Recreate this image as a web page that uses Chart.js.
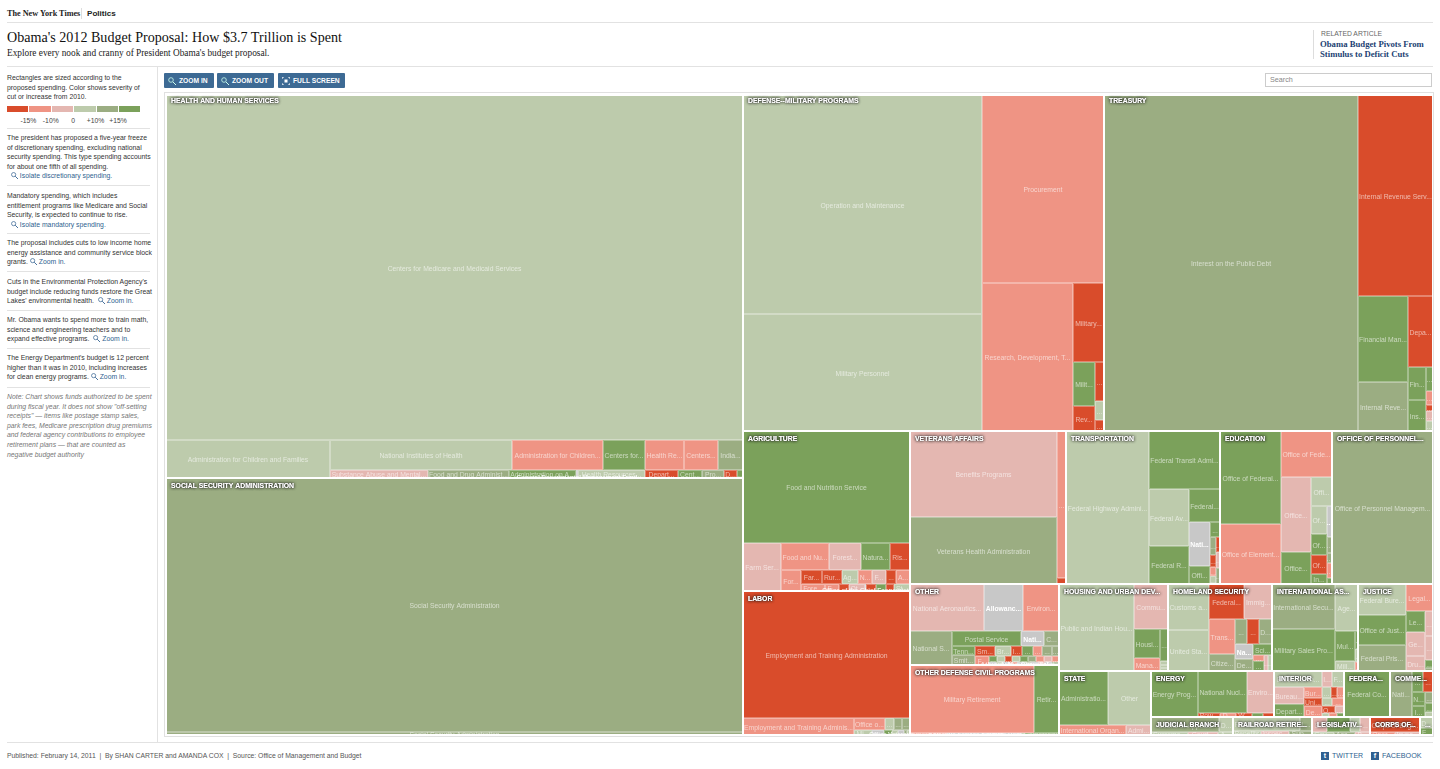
<!DOCTYPE html>
<html>
<head>
<meta charset="utf-8">
<title>Obama's 2012 Budget Proposal: How $3.7 Trillion is Spent</title>
<script src="https://cdn.jsdelivr.net/npm/chart.js@4"></script>
<style>
html, body { margin: 0; padding: 0; background: #fff; }
body { width: 1440px; height: 769px; position: relative; overflow: hidden; font-family: "Liberation Sans", Arial, sans-serif; color: #333; }
.abs { position: absolute; white-space: nowrap; }
.rule { position: absolute; background: #e2e2e2; height: 1px; }
.para { position: absolute; left: 7px; font-size: 6.85px; line-height: 9.6px; white-space: nowrap; color: #333; }
.para a { color: #2f5f8f; }
.mag { width: 7px; height: 7px; vertical-align: -1px; margin-right: 2px; }
.note { font-style: italic; color: #777; }
.btn { position: absolute; top: 73px; height: 15px; line-height: 15px; background: #3d6a94; color: #fff; font-size: 6.7px; font-weight: bold; box-sizing: border-box; padding-left: 15px; border-radius: 1px; }
.btn svg { position: absolute; left: 4px; top: 4px; }
#wrap { position: absolute; left: 166px; top: 95px; width: 1267px; height: 640px; }
#frame { position: absolute; left: 164px; top: 92px; width: 1270px; height: 645px; border: 1px solid #e0e0e0; box-sizing: border-box; }
canvas { display: block; }
</style>
</head>
<body>
<svg width="0" height="0" style="position:absolute"><symbol id="magIcon" viewBox="0 0 8 8"><circle cx="3" cy="3" r="2.4" fill="none" stroke="#2f5f8f" stroke-width=".8"/><path d="M4.8 4.8L8 8" stroke="#2f5f8f"/></symbol></svg>
<div class="abs" style="left:7px;top:7px;font:bold 8.2px/13px 'Liberation Serif',serif;color:#222;">The New York Times</div>
<div class="abs" style="left:81px;top:8px;width:1px;height:11px;background:#ddd;"></div>
<div class="abs" style="left:87px;top:8px;font:bold 8.1px/12px 'Liberation Sans',sans-serif;color:#222;">Politics</div>
<div class="rule" style="left:7px;top:22px;width:1426px;"></div>
<div class="abs" style="left:7px;top:28px;font:14.1px/18px 'Liberation Serif',serif;color:#111;">Obama's 2012 Budget Proposal: How $3.7 Trillion is Spent</div>
<div class="abs" style="left:7px;top:47px;font:9.3px/13px 'Liberation Serif',serif;color:#222;">Explore every nook and cranny of President Obama's budget proposal.</div>
<div class="abs" style="left:1313px;top:30px;width:1px;height:29px;background:#ddd;"></div>
<div class="abs" style="left:1321px;top:29px;font:6.8px/10px 'Liberation Sans',sans-serif;color:#666;">RELATED ARTICLE</div>
<div class="abs" style="left:1320px;top:39px;font:bold 8.7px/10px 'Liberation Serif',serif;color:#1c3f73;">Obama Budget Pivots From<br>Stimulus to Deficit Cuts</div>
<div class="rule" style="left:7px;top:66px;width:1426px;"></div>
<div class="abs" style="left:157px;top:67px;width:1px;height:675px;background:#e2e2e2;"></div>

<div class="para" style="top:73px;">Rectangles are sized according to the<br>proposed spending. Color shows severity of<br>cut or increase from 2010.</div>
<div id="legend"></div>
<div class="rule" style="left:7px;top:128px;width:143px;"></div>
<div class="para" style="top:133px;">The president has proposed a five-year freeze<br>of discretionary spending, excluding national<br>security spending. This type spending accounts<br>for about one fifth of all spending.<br><a>&nbsp;&nbsp;<svg class="mag"><use href="#magIcon"/></svg>Isolate discretionary spending.</a></div>
<div class="rule" style="left:7px;top:185px;width:143px;"></div>
<div class="para" style="top:191px;">Mandatory spending, which includes<br>entitlement programs like Medicare and Social<br>Security, is expected to continue to rise.<br><a>&nbsp;&nbsp;<svg class="mag"><use href="#magIcon"/></svg>Isolate mandatory spending.</a></div>
<div class="rule" style="left:7px;top:233px;width:143px;"></div>
<div class="para" style="top:238px;">The proposal includes cuts to low income home<br>energy assistance and community service block<br>grants. <a><svg class="mag"><use href="#magIcon"/></svg>Zoom in.</a></div>
<div class="rule" style="left:7px;top:271px;width:143px;"></div>
<div class="para" style="top:277px;">Cuts in the Environmental Protection Agency's<br>budget include reducing funds restore the Great<br>Lakes' environmental health. &nbsp;<a><svg class="mag"><use href="#magIcon"/></svg>Zoom in.</a></div>
<div class="rule" style="left:7px;top:310px;width:143px;"></div>
<div class="para" style="top:315px;">Mr. Obama wants to spend more to train math,<br>science and engineering teachers and to<br>expand effective programs. &nbsp;<a><svg class="mag"><use href="#magIcon"/></svg>Zoom in.</a></div>
<div class="rule" style="left:7px;top:348px;width:143px;"></div>
<div class="para" style="top:353px;">The Energy Department's budget is 12 percent<br>higher than it was in 2010, including increases<br>for clean energy programs. <a><svg class="mag"><use href="#magIcon"/></svg>Zoom in.</a></div>
<div class="rule" style="left:7px;top:387px;width:143px;"></div>
<div class="para note" style="top:392px;">Note: Chart shows funds authorized to be spent<br>during fiscal year. It does not show "off-setting<br>receipts" &mdash; items like postage stamp sales,<br>park fees, Medicare prescription drug premiums<br>and federal agency contributions to employee<br>retirement plans &mdash; that are counted as<br>negative budget authority</div>

<div class="btn" style="left:164px;width:50px;"><svg width="8" height="8" viewBox="0 0 8 8"><circle cx="3" cy="3" r="2.3" fill="none" stroke="#cfe" stroke-width=".8"/><path d="M5 5L8 8" stroke="#cfe"/></svg>ZOOM IN</div>
<div class="btn" style="left:217px;width:57px;"><svg width="8" height="8" viewBox="0 0 8 8"><circle cx="3" cy="3" r="2.3" fill="none" stroke="#cfe" stroke-width=".8"/><path d="M5 5L8 8" stroke="#cfe"/></svg>ZOOM OUT</div>
<div class="btn" style="left:278px;width:67px;"><svg width="8" height="8" viewBox="0 0 8 8"><path d="M0 2V0H2M6 0H8V2M8 6V8H6M2 8H0V6" fill="none" stroke="#fff"/><rect x="2.5" y="2.5" width="3" height="3" fill="#fff"/></svg>FULL SCREEN</div>
<div class="abs" style="left:1265px;top:73px;width:167px;height:14px;border:1px solid #ccc;box-sizing:border-box;font:7.2px/12px 'Liberation Sans',sans-serif;color:#888;padding-left:4px;">Search</div>

<div id="frame"></div>
<div id="wrap"><canvas id="budget" width="1267" height="640"></canvas></div>

<div class="rule" style="left:7px;top:742px;width:1426px;"></div>
<div class="abs" style="left:7px;top:751px;font:6.8px/10px 'Liberation Sans',sans-serif;color:#555;">Published: February 14, 2011 &nbsp;|&nbsp; By SHAN CARTER and AMANDA COX &nbsp;|&nbsp; Source: Office of Management and Budget</div>
<div class="abs" style="left:1321px;top:752px;width:8px;height:8px;background:#2f5f8f;color:#fff;font:bold 7px/8px 'Liberation Sans',sans-serif;text-align:center;">t</div>
<div class="abs" style="left:1332px;top:751px;font:7px/10px 'Liberation Sans',sans-serif;color:#2f5f8f;">TWITTER</div>
<div class="abs" style="left:1371px;top:752px;width:8px;height:8px;background:#2f5f8f;color:#fff;font:bold 7px/8px 'Liberation Sans',sans-serif;text-align:center;">f</div>
<div class="abs" style="left:1382px;top:751px;font:7.2px/10px 'Liberation Sans',sans-serif;color:#2f5f8f;">FACEBOOK</div>

<script>
// budget figures, billions of dollars. change = percent from 2010
const deptNames = ["HEALTH AND HUMAN SERVICES", "SOCIAL SECURITY ADMINISTRATION", "DEFENSE--MILITARY PROGRAMS", "TREASURY", "AGRICULTURE", "LABOR", "VETERANS AFFAIRS", "TRANSPORTATION", "EDUCATION", "OFFICE OF PERSONNEL MANAGEMENT", "OTHER", "OTHER DEFENSE CIVIL PROGRAMS", "HOUSING AND URBAN DEVELOPMENT", "HOMELAND SECURITY", "INTERNATIONAL ASSISTANCE", "JUSTICE", "STATE", "ENERGY", "INTERIOR", "FEDERAL COMMUNICATIONS", "COMMERCE", "JUDICIAL BRANCH", "RAILROAD RETIREMENT BOARD", "LEGISLATIVE BRANCH", "CORPS OF ENGINEERS", "DISTRICT OF COLUMBIA"];
const deptValues = [1017, 681, 559, 508, 123, 111, 110, 109, 79, 71, 56, 48, 43.6, 41.6, 34.4, 30, 26.8, 26.2, 14.8, 9.7, 9.1, 6.8, 6.5, 4.8, 4.1, 1.1];
const deptStrips = [-2, 2, -2, 4, -2, 4, -1, 4, 5];

const hhsNames = ["Centers for Medicare and Medicaid Services", "Administration for Children and Families", "National Institutes of Health", "Administration for Children and Families Programs", "Centers for Disease Control", "Health Resources and Services", "Centers for Medicare Programs", "Indian Health Service", "Substance Abuse and Mental Health Services", "Food and Drug Administration", "Administration on Aging Programs", "General Departmental Management Fund", "Health Resources and Services Administration", "Departmental Management", "Centers for Disease", "Program Support", "Departmental", "Agency"];
const hhsValues = [913, 28.7, 25, 12.6, 5.7, 5.5, 4.6, 3.4, 3.6, 3, 2.5, 0.04, 2.5, 1.2, 0.9, 0.8, 0.5, 0.2];
const hhsChange = [5, 5, 5, -12, 20, -12, -12, 12, -5, 12, 20, null, 5, -20, 20, 12, -20, 20];
const hhsStrips = [1, -1, 6, 10];

const ssaNames = ["Social Security Administration", "Social Security Administration"];
const ssaValues = [672.7, 8];
const ssaChange = [12, 12];
const ssaStrips = [1, 1];

const defenseNames = ["Operation and Maintenance", "Military Personnel", "Procurement", "Research, Development, Test and Evaluation", "Military Construction", "Military Family Housing", "Revolving and Management Funds", "Allowances", "Trust Funds", "Defense-wide"];
const defenseValues = [240.6, 128.6, 105.5, 61.2, 11.5, 4.5, 2.6, 1.6, 0.8, 0.45];
const defenseChange = [5, 5, -12, -12, -20, 20, -20, -20, 5, -20];
const defenseStrips = [-2, 1, -1, 1, -2, -3];

const treasuryNames = ["Interest on the Public Debt", "Internal Revenue Service", "Financial Management Service", "Internal Revenue Programs", "Departmental Offices", "Financial Crimes", "Inspector General", "Alcohol and Tobacco", "Mint", "Public Debt", "Fiscal Service", "Comptroller"];
const treasuryValues = [390.8, 69, 19.6, 11, 8.2, 2.8, 2.6, 0.74, 0.4, 0.2, 0.3, 0.3];
const treasuryChange = [12, -20, 20, 12, -20, 20, 20, 20, -12, -20, -5, 5];
const treasuryStrips = [-1, 1, -2, 1, -2, -5];

const agricultureNames = ["Food and Nutrition Service", "Farm Service Agency", "Food and Nutrition Programs", "Forest Service", "Natural Resources Conservation", "Risk Management Agency", "Foreign Agricultural Service", "Farm Credit", "Rural Housing Service", "Agricultural Research", "National Institute of Food", "Food Safety", "Rural Business", "Animal and Plant Health", "Forest Programs", "Farm Programs", "Rural Utilities", "Other", "Office of the Chief Economist", "Grain Inspection", "Marketing Service", "Economic Research", "Statistics"];
const agricultureValues = [86, 8.4, 6, 4, 3.6, 2.5, 1.9, 1.35, 1.3, 1.03, 0.9, 0.9, 0.64, 0.9, 0.74, 0.45, 0.3, 0.5, 0.04, 0.3, 0.3, 0.25, 0.5];
const agricultureChange = [20, -5, -12, -5, 20, -20, -12, -20, -20, 5, -12, -5, -20, -12, -12, -12, -20, -5, null, -20, 20, -20, 5];
const agricultureStrips = [1, -1, 4, -1, 7, 9];

const laborNames = ["Employment and Training Administration", "Employment and Training Administration", "Office of Workers' Compensation", "Occupational Safety", "Bureau of Labor Statistics", "Employee Benefits", "Mine Safety", "Office", "Wage and Hour", "Departmental", "Veterans", "Labor Relations", "Pension"];
const laborValues = [97.5, 8.7, 1.65, 0.5, 0.44, 0.44, 0.41, 0.28, 0.18, 0.14, 0.12, 0.08, 0.06];
const laborChange = [-20, -12, -12, 5, 12, 12, 5, null, 20, 5, null, 12, 5];
const laborStrips = [1, -1, 4, 7];

const vaNames = ["Benefits Programs", "Veterans Health Administration", "Departmental Administration", "Construction"];
const vaValues = [57.7, 45, 6, 0.25];
const vaChange = [-5, 12, -12, -20];
const vaStrips = [-2, -2];

const transportationNames = ["Federal Highway Administration", "Federal Transit Administration", "Federal Aviation Administration", "Federal Railroad Administration", "Federal Motor Carrier", "National Infrastructure Bank", "Office of the Secretary", "National Highway Traffic", "Pipeline", "Maritime Administration", "Office of Inspector General", "Research", "Surface Transportation", "Hazardous", "Saint Lawrence"];
const transportationValues = [58.4, 19, 10.5, 7, 4.85, 4.35, 1.8, 0.66, 0.47, 0.33, 0.25, 0.2, 0.3, 0.3, 0.3];
const transportationChange = [5, 20, 5, 20, 20, null, 20, 20, 12, -20, -12, 5, -20, -5, 12];
const transportationStrips = [-1, 1, -2, 1, -2, 1, -4, -3];

const educationNames = ["Office of Federal Student Aid", "Office of Elementary and Secondary Education", "Office of Federal Programs", "Office of Special Education", "Office of Innovation", "Office of Postsecondary Education", "Office of Vocational Education", "Office of English Language", "Office of Safe Schools", "Institute of Education", "Office of Civil Rights", "Departmental", "Inspector", "Loan", "Howard"];
const educationValues = [25.7, 16.6, 10.8, 10.3, 4.4, 2.8, 2, 1.55, 1.4, 0.74, 0.7, 0.37, 0.23, 0.34, 0.14];
const educationChange = [20, -12, -12, -5, 20, 5, 5, 20, -20, 20, null, 12, 12, -12, 20];
const educationStrips = [-2, 1, -2, 1, -4, -5];

const opmNames = ["Office of Personnel Management"];
const opmValues = [71];
const opmChange = [12];
const opmStrips = [1];

const otherNames = ["National Aeronautics and Space Administration", "Allowances", "Environmental Protection Agency", "National Science Foundation", "Postal Service", "National Infrastructure", "Corporation for Public", "Tennessee Valley Authority", "Smithsonian Institution", "Small Business Administration", "Broadcasting", "International Trade", "Equal Employment", "Peace Corps", "Consumer Product", "Education Funds", "Federal Emergency", "Nuclear Regulatory", "Securities", "Archives", "Holocaust", "Commodity", "Federal Election", "Trade", "Labor Board", "Kennedy Center", "Library", "Clean", "Arts", "Humanities", "Museum", "Medicaid", "Chemical", "Merit", "Safety", "Election"];
const otherValues = [15.5, 7.9, 7.65, 6.6, 4.8, 1.6, 1.1, 0.92, 1, 0.87, 0.7, 0.5, 0.46, 0.41, 0.41, 0.33, 0.6, 0.22, 0.22, 0.22, 0.22, 0.22, 0.22, 0.22, 0.22, 0.22, 0.1, 0.1, 0.1, 0.1, 0.1, 0.1, 0.1, 0.1, 0.1, 0.1];
const otherChange = [-5, null, -12, 12, 20, null, 12, 20, 12, -20, 5, -20, 20, -12, 12, 12, -12, 20, 5, -20, 5, 20, 12, -12, -5, -12, null, 5, null, -12, null, 5, null, -5, null, 12];
const otherStrips = [3, -1, 3, -2, 7, -1, 9, 10];

const otherDefenseNames = ["Military Retirement", "Retirement Programs", "American Battle Monuments", "Selective Service System", "Soldiers Home", "Cemeterial"];
const otherDefenseValues = [38.8, 8.1, 0.35, 0.35, 0.35, 0.35];
const otherDefenseChange = [-12, 20, -12, null, null, 20];
const otherDefenseStrips = [2, 4];

const housingNames = ["Public and Indian Housing Programs", "Community Planning", "Housing Programs", "Management and Administration", "Community Development", "Government National", "Fair Housing", "Policy"];
const housingValues = [29.6, 7.1, 3.5, 1.55, 1.24, 0.15, 0.15, 0.1];
const housingChange = [5, -5, 20, -12, 20, 5, 5, 5];
const housingStrips = [-1, 1, -2, 1, -3];

const homelandNames = ["Customs and Border Protection", "United States Coast Guard", "Federal Emergency Management", "Immigration and Customs", "Transportation Security", "Citizenship and Immigration", "U.S. Secret Service", "U.S. Visit", "Domestic Nuclear", "National Protection", "Departmental Operations", "Science and Technology", "Federal Law", "Office", "Transit", "Urban"];
const homelandValues = [8.3, 7.5, 5.5, 4.5, 4, 2, 1.4, 1.3, 1.4, 1.25, 1, 1, 0.33, 0.5, 0.28, 0.28];
const homelandChange = [5, 5, -20, -5, -12, 12, 12, -20, 12, null, 12, 20, -12, 20, -5, 5];
const homelandStrips = [-2, 2, -2, 3, -2, 1, -2, 2];

const intlNames = ["International Security Assistance", "Military Sales Program", "Agency for International Development", "Multilateral Assistance", "Millennium Challenge", "Export", "Peace", "Trade"];
const intlValues = [12.8, 12, 5, 2.8, 0.9, 0.3, 0.2, 0.15];
const intlChange = [12, 20, 5, 20, 5, 20, 5, -12];
const intlStrips = [-2, 1, -2, -3];

const justiceNames = ["Federal Bureau of Investigation", "Office of Justice Programs", "Federal Prison System", "Legal Activities", "Legal Services", "General Administration", "Drug Enforcement Administration", "Bureau of Alcohol", "Interagency", "United States", "Marshals"];
const justiceValues = [6.7, 6.3, 5.6, 3.3, 1.8, 2.1, 1.3, 0.9, 0.9, 0.3, 0.1];
const justiceChange = [5, 20, 12, -12, 20, -5, -5, -5, -5, 20, 12];
const justiceStrips = [-3, 1, -3, -4];

const stateNames = ["Administration of Foreign Affairs", "Other", "International Organizations", "Administration"];
const stateValues = [11.9, 10.2, 3, 1.1];
const stateChange = [20, 5, -12, -5];
const stateStrips = [2, 2];

const energyNames = ["Energy Programs", "National Nuclear Security", "Environmental and Other Defense", "Power Marketing", "Departmental", "Western", "Southwestern", "Bonneville"];
const energyValues = [9.9, 9.3, 5.2, 0.4, 0.3, 0.3, 0.2, 0.2];
const energyChange = [20, 20, -5, -20, -12, -20, 20, -20];
const energyStrips = [-1, 2, 5];

const interiorNames = ["Bureau of Indian Affairs", "Insular", "Fish and Wildlife", "Bureau of Land Management", "Departmental Management", "Bureau of Reclamation", "Surface", "Mining", "Minerals", "United States Geological", "Departmental Offices", "National Park", "Office", "Ocean", "Energy", "Safety", "Wildland", "Trust"];
const interiorValues = [3.46, 0.74, 0.88, 2.2, 1.8, 0.9, 0.45, 0.3, 0.35, 0.58, 0.9, 0.32, 0.38, 0.4, 0.3, 0.15, 0.15, 0.15];
const interiorChange = [5, -5, 5, -5, 20, -12, 5, -20, -12, -20, -12, 5, -12, -20, -5, 5, -12, 20];
const interiorStrips = [3, -2, 4, -2, 2, 2, 3];

const federalNames = ["Federal Communications Commission"];
const federalValues = [9.7];
const federalChange = [20];
const federalStrips = [1];

const commerceNames = ["National Oceanic and Atmospheric", "Bureau of the Census", "Economic Development", "National Institute of Standards", "International Trade", "Patent Office", "Minority", "Bureau"];
const commerceValues = [4.4, 1, 0.9, 0.77, 0.6, 0.4, 0.3, 0.2];
const commerceChange = [12, 20, -20, 20, 20, 12, 20, 5];
const commerceStrips = [-1, 2, -2, -3];

const judicialNames = ["Courts of Appeals", "Defender Services", "Supreme Court", "Court Security", "Administrative Office"];
const judicialValues = [4.7, 0.97, 0.5, 0.4, 0.2];
const judicialChange = [12, 5, 5, -5, 5];
const judicialStrips = [2, 3];

const railroadNames = ["Railroad Retirement Board", "Limitation on Administration", "Benefits", "Inspector General", "Supplemental"];
const railroadValues = [4.2, 0.77, 0.5, 0.5, 0.4];
const railroadChange = [5, 12, 5, -5, 12];
const railroadStrips = [2, 3];

const legislativeNames = ["Senate", "Library of Congress", "House of Representatives", "Architect of the Capitol", "Government Printing", "Accountability", "Budget Office"];
const legislativeValues = [1, 1.4, 0.65, 0.65, 0.3, 0.3, 0.2];
const legislativeChange = [-5, 20, 5, -5, 5, 12, -5];
const legislativeStrips = [4, 3];

const corpsNames = ["Corps of Engineers Construction", "Operation", "Investigations"];
const corpsValues = [3.4, 0.35, 0.35];
const corpsChange = [-20, -12, -5];
const corpsStrips = [1, 2];

const dcNames = ["District of Columbia Courts", "Federal Payment"];
const dcValues = [0.7, 0.4];
const dcChange = [5, 20];
const dcStrips = [1, 1];

const legendColors = ["#d94c2b", "#ef9484", "#e4b7b1", "#bdcbac", "#9bad82", "#7ba15b"];
const legendTicks = ["-15%", "-10%", "0", "+10%", "+15%"];
const noChangeColor = "#c8c8c8";

const deptAgencies = [
  [hhsNames, hhsValues, hhsChange, hhsStrips],
  [ssaNames, ssaValues, ssaChange, ssaStrips],
  [defenseNames, defenseValues, defenseChange, defenseStrips],
  [treasuryNames, treasuryValues, treasuryChange, treasuryStrips],
  [agricultureNames, agricultureValues, agricultureChange, agricultureStrips],
  [laborNames, laborValues, laborChange, laborStrips],
  [vaNames, vaValues, vaChange, vaStrips],
  [transportationNames, transportationValues, transportationChange, transportationStrips],
  [educationNames, educationValues, educationChange, educationStrips],
  [opmNames, opmValues, opmChange, opmStrips],
  [otherNames, otherValues, otherChange, otherStrips],
  [otherDefenseNames, otherDefenseValues, otherDefenseChange, otherDefenseStrips],
  [housingNames, housingValues, housingChange, housingStrips],
  [homelandNames, homelandValues, homelandChange, homelandStrips],
  [intlNames, intlValues, intlChange, intlStrips],
  [justiceNames, justiceValues, justiceChange, justiceStrips],
  [stateNames, stateValues, stateChange, stateStrips],
  [energyNames, energyValues, energyChange, energyStrips],
  [interiorNames, interiorValues, interiorChange, interiorStrips],
  [federalNames, federalValues, federalChange, federalStrips],
  [commerceNames, commerceValues, commerceChange, commerceStrips],
  [judicialNames, judicialValues, judicialChange, judicialStrips],
  [railroadNames, railroadValues, railroadChange, railroadStrips],
  [legislativeNames, legislativeValues, legislativeChange, legislativeStrips],
  [corpsNames, corpsValues, corpsChange, corpsStrips],
  [dcNames, dcValues, dcChange, dcStrips]
];

function colorFor(change) {
  if (change === null) return noChangeColor;
  if (change <= -15) return legendColors[0];
  if (change <= -10) return legendColors[1];
  if (change < 0) return legendColors[2];
  if (change < 10) return legendColors[3];
  if (change < 15) return legendColors[4];
  return legendColors[5];
}

// strips: positive n = a band of n items across the width, negative = a column of n items
function layoutStrips(values, strips, box) {
  const out = [];
  let rem = Object.assign({}, box);
  let left = values.reduce((a, b) => a + b, 0);
  let idx = 0;
  strips.forEach(function (s) {
    const n = Math.abs(s);
    const part = values.slice(idx, idx + n);
    const sum = part.reduce((a, b) => a + b, 0);
    const frac = left > 0 ? sum / left : 0;
    if (s > 0) {
      const h = rem.y1 - rem.y0;
      const bandEnd = rem.y0 + h * frac;
      let x = rem.x0;
      part.forEach(function (v) {
        const x2 = x + (rem.x1 - rem.x0) * v / sum;
        out.push({ x0: x, x1: x2, y0: rem.y0, y1: bandEnd });
        x = x2;
      });
      rem.y0 = bandEnd;
    } else {
      const w = rem.x1 - rem.x0;
      const colEnd = rem.x0 + w * frac;
      let y = rem.y0;
      part.forEach(function (v) {
        const y2 = y + (rem.y1 - rem.y0) * v / sum;
        out.push({ x0: rem.x0, x1: colEnd, y0: y, y1: y2 });
        y = y2;
      });
      rem.x0 = colEnd;
    }
    left -= sum;
    idx += n;
  });
  return out;
}

function fitText(ctx, text, maxWidth) {
  if (ctx.measureText(text).width <= maxWidth) return text;
  let t = text;
  while (t.length > 0 && ctx.measureText(t + "...").width > maxWidth) t = t.slice(0, -1);
  return t.trimEnd() + "...";
}

class CellElement extends Chart.Element {
  static id = "cell";
  static defaults = {};
  draw(ctx) {
    const w = this.right - this.left;
    const h = this.bottom - this.top;
    ctx.save();
    if (this.kind === "agency") {
      ctx.beginPath();
      ctx.rect(this.left, this.top, w, h);
      ctx.clip();
      ctx.fillStyle = this.color;
      ctx.fillRect(this.left, this.top, w, h);
      ctx.strokeStyle = "rgba(255,255,255,0.32)";
      ctx.lineWidth = 1;
      ctx.strokeRect(this.left + 0.5, this.top + 0.5, w - 1, h - 1);
      const gray = this.color === noChangeColor;
      if (!(gray && h < 9)) {
        ctx.font = (gray ? "bold " : "") + "6.8px 'Liberation Sans'";
        ctx.fillStyle = gray ? "#fff" : "rgba(255,255,255,0.6)";
        ctx.textAlign = "center";
        ctx.textBaseline = "middle";
        ctx.fillText(fitText(ctx, this.label, w - 2), this.left + w / 2, this.top + h / 2 + 1.2);
      }
    } else {
      ctx.beginPath();
      ctx.rect(this.left - 1, this.top - 1, w + 2, h + 2);
      ctx.clip();
      ctx.strokeStyle = "#fff";
      ctx.lineWidth = 2;
      ctx.strokeRect(this.left, this.top, w, h);
      ctx.font = "bold 6.85px 'Liberation Sans'";
      ctx.textAlign = "left";
      ctx.textBaseline = "middle";
      ctx.shadowColor = "rgba(30,30,30,1)";
      ctx.shadowBlur = 3;
      ctx.fillStyle = "#fff";
      const text = fitText(ctx, this.label, w - 9);
      const ty = this.top + (this.top === 0 ? 6.5 : 8);
      ctx.fillText(text, this.left + 5, ty);
      ctx.fillText(text, this.left + 5, ty);
    }
    ctx.restore();
  }
}

class TreemapController extends Chart.DatasetController {
  static id = "treemap";
  static defaults = { dataElementType: "cell", datasetElementType: false };
  update(mode) {
    const meta = this.getMeta();
    this.updateElements(meta.data, 0, meta.data.length, mode);
  }
  updateElements(rects, start, count) {
    const meta = this.getMeta();
    const data = this.getDataset().data;
    for (let i = start; i < start + count; i++) {
      const d = data[i];
      Object.assign(rects[i], {
        left: Math.round(meta.xScale.getPixelForValue(d.x0)),
        right: Math.round(meta.xScale.getPixelForValue(d.x1)),
        top: Math.round(meta.yScale.getPixelForValue(d.y0)),
        bottom: Math.round(meta.yScale.getPixelForValue(d.y1)),
        x: meta.xScale.getPixelForValue(d.x),
        y: meta.yScale.getPixelForValue(d.y),
        label: d.label,
        color: d.color,
        kind: d.kind
      });
    }
  }
}
Chart.register(TreemapController, CellElement);

// the tiny no-data cells have their white names run over their neighbours, half cut off at the band edge
const tinyLabels = {
  id: "tinyLabels",
  beforeDatasetDraw(chart, args) {
    if (args.index !== 0) return;
    const ctx = chart.ctx;
    const rects = chart.getDatasetMeta(1).data;
    ctx.font = "bold 6.2px 'Liberation Sans'";
    ctx.fillStyle = "rgba(255,255,255,0.85)";
    ctx.textAlign = "center";
    ctx.textBaseline = "middle";
    rects.forEach(function (r) {
      if (r.color === noChangeColor && r.bottom - r.top < 9) {
        ctx.save();
        ctx.beginPath();
        ctx.rect(r.left - 60, r.top, r.right - r.left + 120, r.bottom - r.top);
        ctx.clip();
        ctx.fillText(r.label, (r.left + r.right) / 2, r.bottom - 1);
        ctx.restore();
      }
    });
  }
};

const deptBoxes = layoutStrips(deptValues, deptStrips, { x0: 0, y0: 0, x1: 1, y1: 1 });
const agencyCells = [];
const deptCells = [];
deptBoxes.forEach(function (box, i) {
  const [names, values, change, strips] = deptAgencies[i];
  layoutStrips(values, strips, box).forEach(function (r, j) {
    agencyCells.push(Object.assign(r, { x: (r.x0 + r.x1) / 2, y: (r.y0 + r.y1) / 2, label: names[j], color: colorFor(change[j]), kind: "agency" }));
  });
  deptCells.push(Object.assign({}, box, { x: (box.x0 + box.x1) / 2, y: (box.y0 + box.y1) / 2, label: deptNames[i], kind: "dept" }));
});

document.addEventListener("DOMContentLoaded", function () {
  new Chart(document.getElementById("budget"), {
    type: "treemap",
    data: {
      datasets: [
        { label: "Departments", data: deptCells },
        { label: "Agencies", data: agencyCells }
      ]
    },
    options: {
      responsive: false,
      animation: false,
      events: [],
      layout: { padding: 0 },
      plugins: { legend: { display: false }, tooltip: { enabled: false } },
      scales: {
        x: { type: "linear", min: 0, max: 1, display: false },
        y: { type: "linear", min: 0, max: 1, reverse: true, display: false }
      }
    },
    plugins: [tinyLabels]
  });

  // colour key in the left column
  const legend = document.getElementById("legend");
  legendColors.forEach(function (c, i) {
    const seg = document.createElement("div");
    seg.className = "abs";
    seg.style.cssText = "left:" + (7 + i * 22.4) + "px;top:106px;width:21.4px;height:6px;background:" + c;
    legend.appendChild(seg);
  });
  legendTicks.forEach(function (t, i) {
    const tick = document.createElement("div");
    tick.className = "abs";
    tick.textContent = t;
    tick.style.cssText = "left:" + (6 + (i + 1) * 22.4 - 20) + "px;top:116px;width:40px;text-align:center;font-size:6.8px;line-height:10px;color:#444";
    legend.appendChild(tick);
  });
});
</script>
</body>
</html>
